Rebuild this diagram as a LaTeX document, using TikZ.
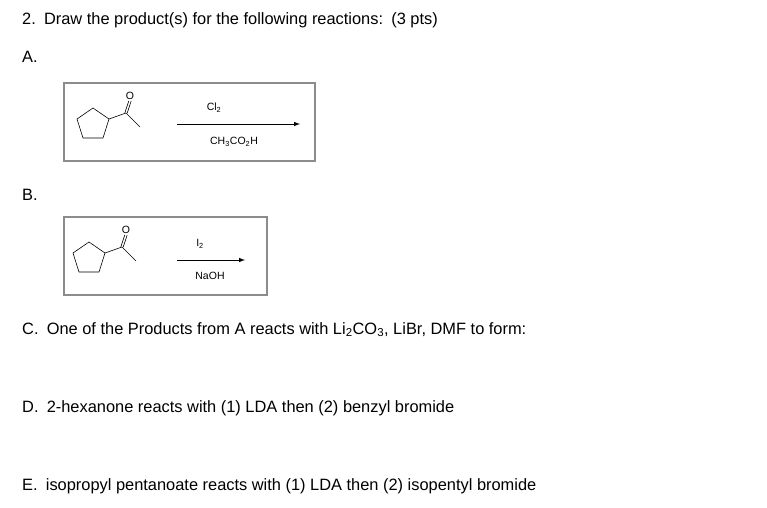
\documentclass[tikz,border=0pt]{standalone}
\usepackage{fontspec}
\setmainfont{Liberation Sans}
\begin{document}
\begin{tikzpicture}[x=1pt,y=-1pt,
  txt/.style={anchor=base west,inner sep=0pt,font=\fontsize{16.4}{19}\selectfont},
  rbox/.style={draw=black!45,line width=1.6pt,fill=white},
  bond/.style={line width=0.6pt},
  small/.style={inner sep=0pt,font=\fontsize{10.5}{12}\selectfont},
  arr/.style={line width=1pt,-latex}]
\useasboundingbox[fill=white] (0,0) rectangle (767,507);
\node[txt] (t1) at (22,24) {2.\enspace Draw the product(s) for the following reactions:\enspace (3 pts)};
\node[txt] (ta) at (22,62) {A.};
\node[txt] (tb) at (22,200) {B.};
\node[txt] (tc) at (22,334) {C.\enspace One of the Products from A reacts with Li\textsubscript{2}CO\textsubscript{3}, LiBr, DMF to form:};
\node[txt] (td) at (22,412) {D.\enspace 2-hexanone reacts with (1) LDA then (2) benzyl bromide};
\node[txt] (te) at (22,490) {E.\enspace isopropyl pentanoate reacts with (1) LDA then (2) isopentyl bromide};
\draw[rbox] (64,83) rectangle (315,161);
\draw[rbox] (64,217) rectangle (267,295);
\foreach \dx/\dy/\n in {0/0/a,-4/134/b}{
\begin{scope}[shift={(\dx,\dy)}]
\coordinate (\n1) at (93,108); \coordinate (\n2) at (109,119);
\coordinate (\n3) at (103,138); \coordinate (\n4) at (83,138);
\coordinate (\n5) at (77,119); \coordinate (\n6) at (126,113);
\coordinate (\n7) at (140,127);
\node[small] (\n O) at (130,96) {O};
\draw[bond] (\n1)--(\n2)--(\n3)--(\n4)--(\n5)--cycle;
\draw[bond] (\n2)--(\n6)--(\n7);
\draw[bond] ([xshift=-1.2pt]\n6)--([xshift=-1.2pt,yshift=-1pt]\n O.south);
\draw[bond] ([xshift=1.2pt]\n6)--([xshift=1.2pt,yshift=-1pt]\n O.south);
\end{scope}}
\coordinate (as) at (177,124); \coordinate (ae) at (300,124);
\draw[arr] (as)--(ae);
\node[small] (cl) at (214,108) {Cl\textsubscript{2}};
\node[small] (ac) at (234,142) {CH\textsubscript{3}CO\textsubscript{2}H};
\coordinate (bs) at (177,260); \coordinate (be) at (245,260);
\draw[arr] (bs)--(be);
\node[small] (i2) at (200,244) {I\textsubscript{2}};
\node[small] (na) at (210,276) {NaOH};
\end{tikzpicture}
\end{document}
